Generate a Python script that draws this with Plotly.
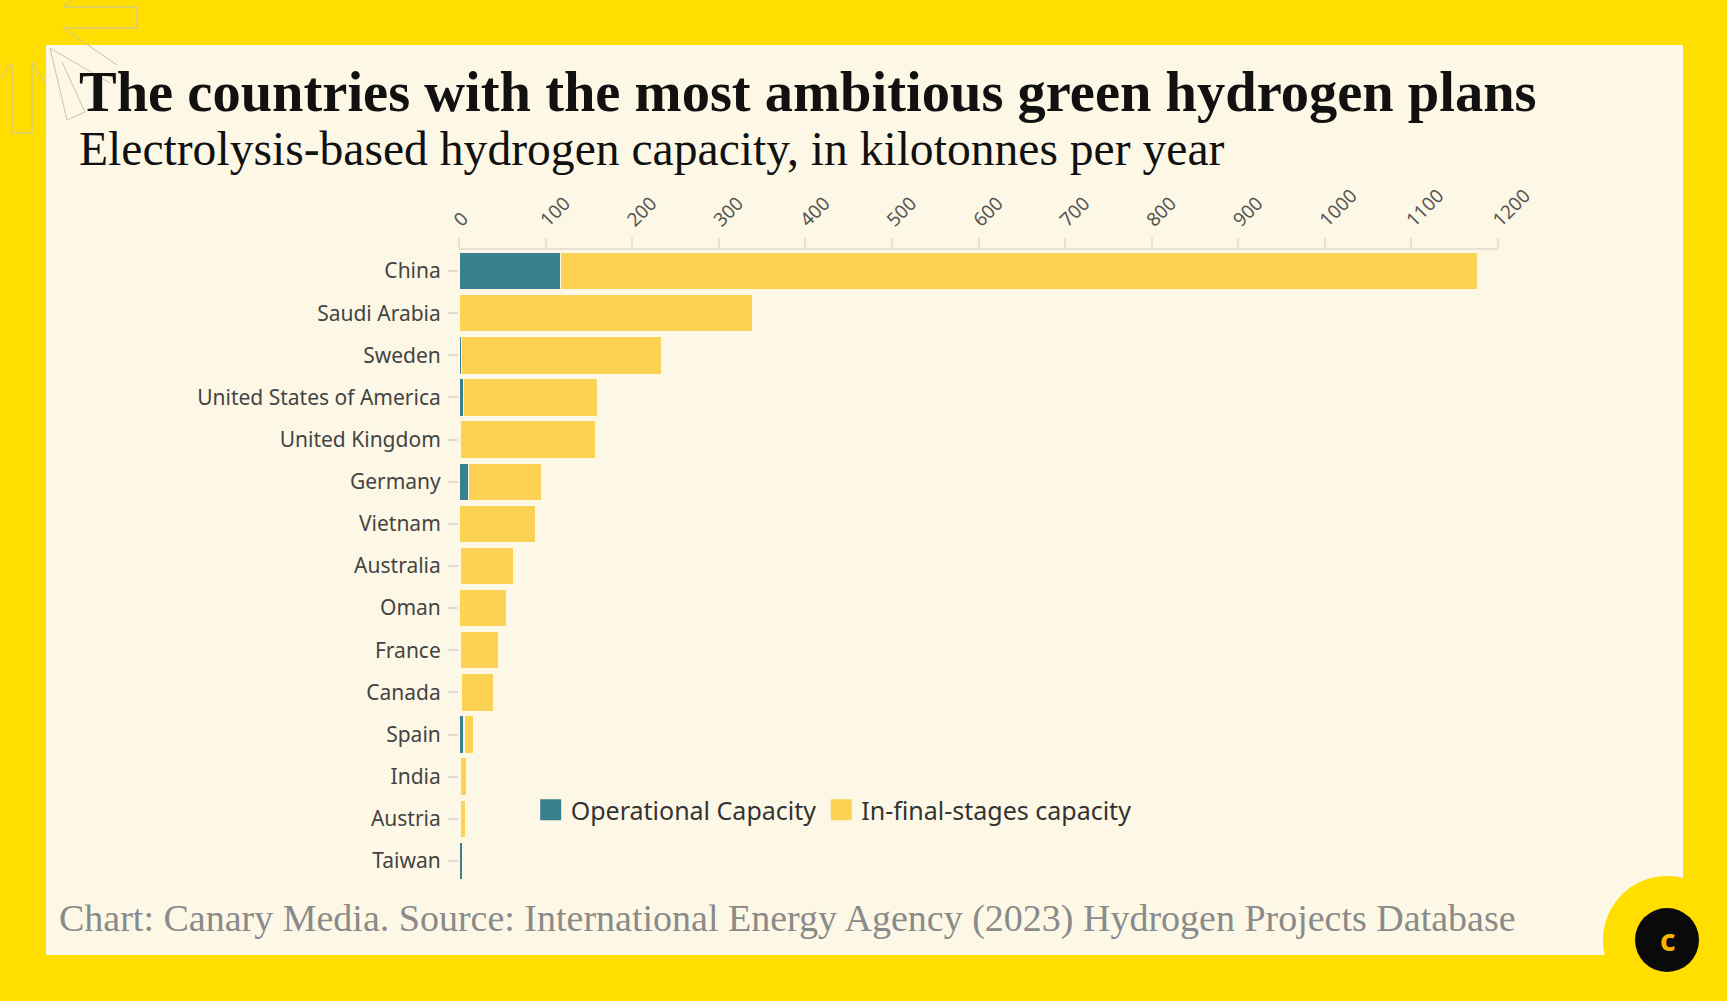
import plotly.graph_objects as go

countries = ["China", "Saudi Arabia", "Sweden", "United States of America", "United Kingdom",
             "Germany", "Vietnam", "Australia", "Oman", "France", "Canada", "Spain",
             "India", "Austria", "Taiwan"]
operational = [117, 0, 3, 5, 1, 11, 0, 1.5, 0.5, 1, 2.5, 5.5, 1.5, 1, 4.5]
in_final = [1060, 339, 231, 155, 157, 84, 89, 62, 55, 45, 38, 11.5, 8, 6.5, 0]
x_ticks = [0, 100, 200, 300, 400, 500, 600, 700, 800, 900, 1000, 1100, 1200]
series_names = ["Operational Capacity", "In-final-stages capacity"]

W, H = 1727, 1001
L, R, T, B = 459, 229, 250, 119
PW, PH = W - L - R, H - T - B

def px(x):
    return (x - L) / PW

def py(y):
    return (H - B - y) / PH

def path(points, close=False):
    s = "M " + " L ".join(f"{px(a):.5f},{py(b):.5f}" for a, b in points)
    return s + (" Z" if close else "")

TEAL = "#3A818F"
YEL = "#FBD254"
CREAM = "#FDF8E6"
OUTER = "#FFDE00"

fig = go.Figure()
for name, vals, col in [(series_names[0], operational, TEAL), (series_names[1], in_final, YEL)]:
    fig.add_trace(go.Bar(y=countries, x=vals, name=name, orientation="h", legendgroup=name,
                         showlegend=False,
                         marker=dict(color=col, line=dict(color=CREAM, width=1.5))))
    # legend swatch (larger square than the default bar swatch)
    fig.add_trace(go.Scatter(x=[None], y=[None], name=name, mode="markers", legendgroup=name,
                             marker=dict(symbol="square", size=16, color=col,
                                         line=dict(color=col, width=5))))

shapes = []
shapes.append(dict(type="rect", xref="paper", yref="paper", x0=px(46), x1=px(1683), y0=py(955), y1=py(45),
                   fillcolor=CREAM, line=dict(width=0), layer="below"))
r = 64
shapes.append(dict(type="circle", xref="paper", yref="paper", x0=px(1667 - r), x1=px(1667 + r),
                   y0=py(940 + r), y1=py(940 - r), fillcolor=OUTER, line=dict(width=0), layer="below"))
r2 = 32
shapes.append(dict(type="circle", xref="paper", yref="paper", x0=px(1667 - r2), x1=px(1667 + r2),
                   y0=py(940 + r2), y1=py(940 - r2), fillcolor="#0a0a0a", line=dict(width=0), layer="above"))
deco = dict(color="#c9c3b0", width=1)
for pts in [
    [(72, 0), (63, 7), (137, 7), (137, 28), (63, 28), (117, 65)],
    [(50, 48), (110, 83)],
    [(50, 48), (67, 120), (85, 112), (62, 62)],
    [(0, 78), (12, 63), (12, 133), (32, 133), (32, 62), (45, 83)],
]:
    shapes.append(dict(type="path", xref="paper", yref="paper", path=path(pts), line=deco, layer="above"))

annotations = [
    dict(text="<b>The countries with the most ambitious green hydrogen plans</b>", xref="paper", yref="paper",
         x=px(77), y=py(92), xanchor="left", yanchor="middle", showarrow=False,
         font=dict(family="Liberation Serif", size=56.5, color="#111111")),
    dict(text="Electrolysis-based hydrogen capacity, in kilotonnes per year", xref="paper", yref="paper",
         x=px(77), y=py(149), xanchor="left", yanchor="middle", showarrow=False,
         font=dict(family="Liberation Serif", size=47.6, color="#111111")),
    dict(text="Chart: Canary Media. Source: International Energy Agency (2023) Hydrogen Projects Database",
         xref="paper", yref="paper", x=px(57), y=py(918), xanchor="left", yanchor="middle", showarrow=False,
         font=dict(family="Liberation Serif", size=38, color="#8a8a8a")),
    dict(text="<b>c</b>", xref="paper", yref="paper", x=px(1667), y=py(939), xanchor="center", yanchor="middle",
         showarrow=False, font=dict(family="Noto Sans", size=30, color="#F7B500")),
]

fig.update_layout(
    barmode="stack", bargap=0.1,
    width=W, height=H,
    margin=dict(l=L, r=R, t=T, b=B, pad=0),
    paper_bgcolor=OUTER, plot_bgcolor="rgba(0,0,0,0)",
    font=dict(family="Noto Sans", color="#444444"),
    shapes=shapes, annotations=annotations,
    legend=dict(orientation="h", x=0.069, xanchor="left", y=py(810), yanchor="middle",
                bgcolor="rgba(0,0,0,0)", font=dict(size=25, color="#333333"), traceorder="normal",
                itemsizing="trace"),
    xaxis=dict(side="top", range=[0, 1200], tickvals=x_ticks, tickangle=-45, showgrid=False,
               zeroline=False, showline=True, linecolor="#e6e1d3", linewidth=1.5,
               ticks="outside", ticklen=10, tickcolor="#e6e1d3", tickwidth=1.5, ticklabelshift=-4,
               tickfont=dict(size=19, color="#555555")),
    yaxis=dict(categoryorder="array", categoryarray=countries[::-1], showgrid=False, zeroline=False,
               showline=False, ticks="outside", ticklen=10, tickcolor="#e0dccf", tickwidth=1.5,
               ticklabelstandoff=3, tickfont=dict(size=21, color="#444444")),
)

fig.write_html("out.html", config={"displayModeBar": False},
               post_script="document.body.style.margin='0';document.body.style.overflow='hidden';")
